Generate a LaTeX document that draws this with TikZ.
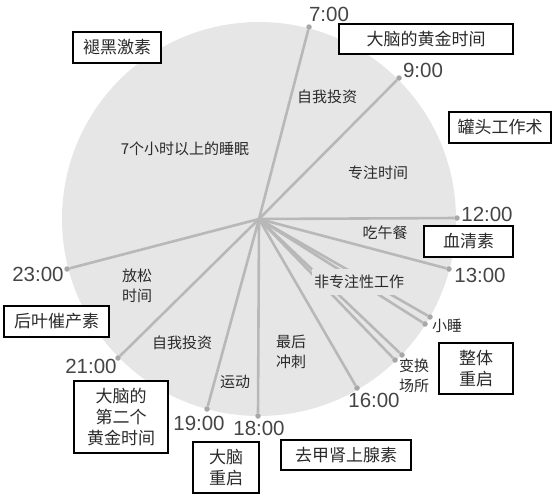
\documentclass[tikz,border=0pt]{standalone}
\usepackage{fontspec}
\newfontfamily\cjk{Noto Sans CJK SC}
\newfontfamily\tmfont{Liberation Sans}
\usetikzlibrary{backgrounds}
\definecolor{disk}{HTML}{E6E6E6}
\definecolor{spokegray}{HTML}{B8B8B8}
\definecolor{dotgray}{HTML}{A8A8A8}
\definecolor{txt}{HTML}{2A2A2A}
\definecolor{tmtxt}{HTML}{454545}
\tikzset{
  spoke/.style={draw=spokegray, line width=2.6pt},
  dot/.style={circle, fill=dotgray, inner sep=0pt, minimum size=5.5pt},
  tlabel/.style={text=tmtxt, font=\tmfont\fontsize{20.5}{23}\selectfont, inner sep=0pt},
  rlabel/.style={text=txt, font=\cjk\fontsize{15}{20}\selectfont, align=center, inner sep=0pt},
  hbox/.style={draw=black, line width=1.8pt, fill=white, text=txt, font=\cjk\fontsize{17}{21}\selectfont, align=center, inner sep=0pt},
}
\begin{document}
\begin{tikzpicture}[x=1pt,y=-1pt]
\useasboundingbox (0,0) rectangle (554,498);
\coordinate (c) at (259,219);
% end dots
\node[dot] (t7)  at (309,27)  {};
\node[dot] (t9)  at (399,78)  {};
\node[dot] (t12) at (457,218) {};
\node[dot] (t13) at (449,269) {};
\node[dot] (sa)  at (430,317) {};
\node[dot] (sb)  at (425,324) {};
\node[dot] (ba)  at (402,355) {};
\node[dot] (bb)  at (395,360) {};
\node[dot] (t16) at (357,388) {};
\node[dot] (t18) at (258,416) {};
\node[dot] (t19) at (207,409) {};
\node[dot] (t21) at (118,358) {};
\node[dot] (t23) at (67,269)  {};
\begin{pgfonlayer}{background}
\fill[disk] (c) circle[radius=197];
\foreach \e in {t7,t9,t12,t13,sa,sb,ba,bb,t16,t18,t19,t21,t23}
  \draw[spoke] (c) -- (\e);
\end{pgfonlayer}
% time labels
\node[tlabel] (l7)  at (329,14)  {7:00};
\node[tlabel] (l9)  at (423,70)  {9:00};
\node[tlabel] (l12) at (487,214) {12:00};
\node[tlabel] (l13) at (480,275) {13:00};
\node[tlabel] (l16) at (374,400) {16:00};
\node[tlabel] (l18) at (259,428) {18:00};
\node[tlabel] (l19) at (199,423) {19:00};
\node[tlabel] (l21) at (91,366)  {21:00};
\node[tlabel] (l23) at (38,274)  {23:00};
% region labels
\node[rlabel] (sleep) at (185,149) {7个小时以上的睡眠};
\node[rlabel] (inv1)  at (327,97)  {自我投资};
\node[rlabel] (focus) at (378,173) {专注时间};
\node[rlabel] (lunch) at (385,233) {吃午餐};
\node[rlabel, fill=disk, inner xsep=2pt, inner ysep=6pt] (nonf) at (359,282) {非专注性工作};
\node[rlabel] (nap)   at (447,326) {小睡};
\node[rlabel] (move)  at (414,376) {变换\\场所};
\node[rlabel] (sprint) at (291,352) {最后\\冲刺};
\node[rlabel] (relax) at (137,286) {放松\\时间};
\node[rlabel] (inv2)  at (182,343) {自我投资};
\node[rlabel] (sport) at (235,382) {运动};
% boxes
\node[hbox, minimum width=88pt, minimum height=31pt] (b1) at (117,47.5) {褪黑激素};
\node[hbox, minimum width=174pt, minimum height=30pt] (b2) at (426,39) {大脑的黄金时间};
\node[hbox, minimum width=102pt, minimum height=31pt] (b3) at (500,127.5) {罐头工作术};
\node[hbox, minimum width=89pt, minimum height=31pt] (b4) at (468.5,241.5) {血清素};
\node[hbox, minimum width=74pt, minimum height=51pt] (b5) at (476,368.5) {整体\\重启};
\node[hbox, minimum width=105pt, minimum height=31pt] (b6) at (56.5,321.5) {后叶催产素};
\node[hbox, minimum width=94pt, minimum height=72pt] (b7) at (121,417) {大脑的\\第二个\\黄金时间};
\node[hbox, minimum width=66pt, minimum height=51pt] (b8) at (226,467.5) {大脑\\重启};
\node[hbox, minimum width=130pt, minimum height=30pt] (b9) at (346,455) {去甲肾上腺素};
\end{tikzpicture}
\end{document}
